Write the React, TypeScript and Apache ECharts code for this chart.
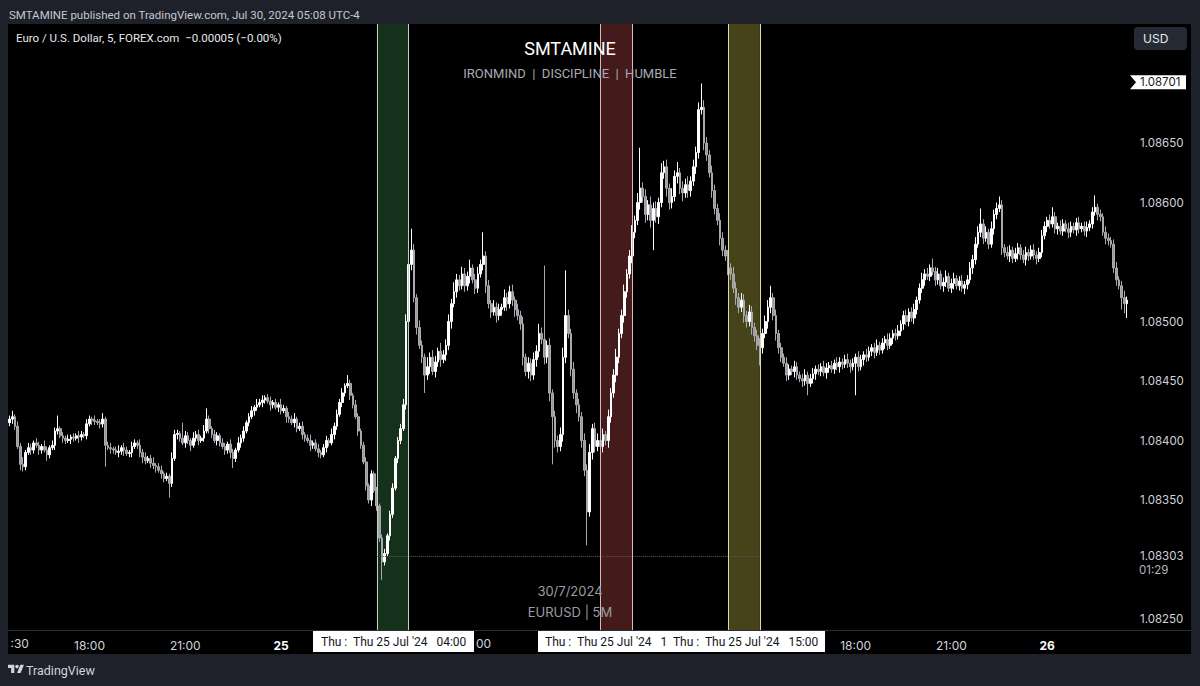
import React, { useEffect, useRef } from "react";
import * as echarts from "echarts";

// Prices are stored in points (0.00001) above BASE. One candle = 5 minutes, first candle 15:30 Wed 24 Jul.
const BASE = 1.08;
const FIRST_OPEN = 415;
const closes = [
  418, 420, 412, 395, 380, 378, 390, 394, 392, 398,
  396, 392, 395, 392, 388, 394, 396, 408, 410, 404,
  402, 400, 401, 403, 402, 404, 403, 405, 404, 414,
  418, 417, 416, 415, 414, 418, 396, 394, 393, 392,
  390, 391, 394, 392, 389, 390, 395, 398, 396, 390,
  386, 383, 385, 381, 379, 378, 375, 372, 368, 370,
  364, 385, 405, 406, 402, 398, 404, 400, 396, 402,
  405, 400, 402, 408, 418, 410, 405, 400, 404, 398,
  395, 392, 397, 390, 385, 392, 398, 402, 408, 415,
  420, 425, 428, 430, 432, 434, 436, 433, 430, 432,
  428, 430, 425, 427, 420, 418, 415, 418, 410, 412,
  405, 402, 400, 396, 398, 393, 390, 388, 394, 400,
  398, 405, 412, 422, 432, 440, 446, 448, 438, 430,
  420, 408, 396, 382, 362, 350, 372, 358, 345, 318,
  298, 305, 320, 338, 360, 385, 400, 410, 430, 500,
  548, 560, 520, 495, 480, 470, 455, 462, 470, 458,
  466, 475, 468, 472, 480, 500, 515, 525, 535, 530,
  540, 530, 538, 545, 535, 528, 540, 548, 555, 530,
  515, 508, 512, 505, 510, 512, 520, 515, 525, 518,
  510, 505, 498, 470, 458, 465, 455, 468, 475, 490,
  485, 470, 480, 440, 420, 400, 395, 405, 470, 505,
  490, 460, 440, 430, 420, 400, 375, 340, 390, 410,
  395, 400, 395, 405, 400, 420, 440, 455, 470, 490,
  505, 525, 540, 555, 575, 585, 600, 612, 605, 590,
  598, 585, 595, 588, 600, 625, 630, 612, 600, 605,
  622, 625, 612, 608, 615, 610, 618, 630, 642, 678,
  680, 650, 640, 625, 610, 595, 585, 570, 560, 555,
  545, 540, 528, 520, 512, 518, 505, 500, 508, 495,
  488, 480, 478, 490, 500, 512, 520, 505, 490, 478,
  470, 465, 455, 460, 458, 462, 455, 452, 450, 455,
  448, 452, 456, 460, 458, 462, 457, 461, 463, 460,
  465, 462, 466, 464, 468, 465, 462, 465, 470, 462,
  468, 472, 470, 475, 478, 474, 480, 476, 482, 485,
  480, 486, 490, 488, 492, 498, 505, 500, 508, 503,
  510, 518, 528, 535, 540, 538, 545, 542, 535, 540,
  530, 533, 538, 528, 532, 536, 530, 534, 528, 531,
  535, 545, 552, 565, 575, 582, 570, 575, 565, 578,
  590, 595, 598, 562, 558, 555, 560, 553, 557, 562,
  556, 552, 558, 555, 560, 556, 553, 558, 572, 580,
  585, 582, 588, 578, 580, 576, 582, 578, 575, 580,
  577, 583, 578, 580, 576, 579, 582, 592, 596, 590,
  588, 575, 570, 568, 565, 545, 535, 530, 520, 515,
  518,
];
// upper wick beyond the body, points
const hiExt = [
  3, 5, 2, 4, 3, 6, 2, 4, 3, 2,
  4, 3, 2, 5, 3, 2, 4, 3, 11, 2,
  3, 2, 4, 2, 3, 2, 4, 3, 2, 4,
  3, 2, 4, 2, 3, 5, 2, 3, 4, 2,
  3, 5, 2, 4, 3, 2, 4, 3, 2, 5,
  3, 4, 2, 3, 5, 2, 3, 4, 2, 3,
  2, 5, 4, 3, 2, 13, 4, 3, 2, 5,
  3, 4, 2, 5, 9, 3, 2, 4, 3, 2,
  4, 3, 2, 4, 3, 2, 5, 3, 4, 2,
  3, 4, 2, 5, 3, 4, 2, 3, 4, 2,
  3, 2, 5, 3, 2, 4, 3, 5, 2, 3,
  4, 2, 3, 5, 2, 3, 4, 2, 3, 4,
  2, 5, 3, 4, 3, 4, 2, 7, 3, 2,
  4, 3, 2, 3, 4, 2, 3, 2, 3, 2,
  3, 4, 2, 3, 4, 2, 3, 4, 5, 6,
  8, 18, 5, 3, 6, 4, 3, 8, 4, 6,
  5, 3, 7, 4, 5, 6, 4, 8, 5, 4,
  6, 5, 4, 7, 3, 5, 6, 4, 20, 4,
  5, 3, 6, 4, 5, 3, 7, 4, 5, 6,
  3, 5, 4, 6, 3, 5, 4, 6, 5, 8,
  5, 62, 4, 6, 3, 5, 4, 6, 8, 38,
  5, 4, 6, 3, 5, 4, 6, 5, 7, 4,
  5, 6, 4, 5, 3, 6, 4, 5, 7, 4,
  5, 6, 4, 5, 6, 4, 8, 34, 5, 6,
  4, 7, 5, 6, 4, 8, 5, 6, 4, 7,
  5, 9, 4, 6, 5, 7, 4, 6, 5, 6,
  20, 6, 5, 4, 6, 5, 4, 6, 5, 4,
  5, 4, 6, 5, 4, 6, 5, 4, 6, 5,
  4, 5, 6, 4, 5, 6, 10, 4, 5, 3,
  4, 3, 5, 4, 3, 5, 4, 3, 4, 5,
  3, 4, 5, 3, 4, 3, 5, 4, 3, 4,
  3, 5, 4, 3, 4, 5, 3, 4, 3, 5,
  4, 3, 5, 4, 3, 4, 5, 3, 4, 3,
  5, 4, 3, 4, 5, 3, 4, 5, 3, 4,
  5, 3, 4, 6, 4, 5, 3, 8, 4, 5,
  3, 4, 5, 3, 4, 5, 3, 4, 5, 3,
  4, 5, 4, 6, 5, 13, 4, 5, 3, 6,
  4, 5, 7, 4, 3, 5, 4, 3, 5, 4,
  3, 4, 5, 3, 4, 5, 3, 4, 5, 4,
  3, 5, 8, 4, 3, 5, 4, 3, 5, 4,
  3, 4, 5, 3, 4, 5, 3, 4, 10, 3,
  4, 3, 5, 4, 3, 4, 5, 3, 4, 6,
  3,
];
// lower wick beyond the body, points
const loExt = [
  3, 4, 3, 2, 5, 4, 3, 2, 4, 3,
  2, 4, 3, 2, 5, 3, 2, 4, 3, 2,
  4, 3, 2, 4, 3, 2, 5, 3, 2, 3,
  2, 4, 3, 2, 4, 3, 18, 2, 4, 3,
  2, 4, 3, 5, 2, 3, 4, 2, 3, 4,
  5, 3, 2, 4, 3, 5, 2, 4, 3, 2,
  12, 3, 2, 4, 3, 2, 4, 3, 5, 2,
  3, 4, 2, 3, 2, 4, 3, 2, 4, 3,
  2, 4, 3, 5, 8, 3, 2, 4, 3, 2,
  3, 2, 4, 3, 2, 4, 3, 2, 5, 3,
  2, 4, 3, 2, 5, 3, 2, 4, 3, 2,
  4, 3, 2, 5, 3, 2, 4, 3, 2, 4,
  3, 2, 4, 3, 2, 4, 3, 2, 4, 3,
  2, 4, 3, 2, 4, 3, 5, 2, 4, 3,
  15, 3, 2, 4, 3, 2, 4, 3, 2, 4,
  3, 5, 4, 6, 3, 5, 15, 4, 6, 3,
  5, 4, 6, 3, 5, 4, 6, 3, 5, 4,
  3, 5, 4, 6, 3, 5, 4, 3, 5, 6,
  4, 5, 3, 6, 4, 5, 3, 6, 4, 5,
  6, 4, 5, 7, 4, 6, 5, 4, 6, 5,
  4, 6, 5, 7, 40, 6, 5, 4, 6, 5,
  4, 6, 5, 7, 4, 6, 5, 28, 4, 6,
  5, 4, 6, 5, 4, 6, 5, 4, 6, 5,
  4, 6, 5, 4, 6, 5, 4, 6, 5, 7,
  5, 6, 25, 5, 6, 4, 5, 7, 6, 5,
  4, 6, 5, 7, 4, 6, 5, 4, 6, 5,
  4, 6, 5, 4, 6, 5, 4, 6, 5, 4,
  6, 5, 4, 6, 5, 4, 6, 5, 4, 6,
  5, 4, 15, 5, 4, 6, 5, 4, 6, 5,
  4, 3, 5, 4, 3, 5, 4, 3, 5, 4,
  10, 3, 4, 5, 3, 4, 3, 5, 4, 3,
  4, 3, 5, 4, 3, 4, 5, 3, 27, 4,
  3, 5, 4, 3, 4, 5, 3, 4, 3, 5,
  4, 3, 5, 4, 3, 4, 5, 3, 4, 3,
  5, 4, 3, 4, 5, 3, 4, 3, 5, 4,
  3, 5, 4, 3, 4, 5, 3, 4, 3, 5,
  4, 3, 5, 4, 3, 4, 5, 3, 4, 3,
  5, 4, 3, 6, 4, 3, 5, 4, 3, 5,
  4, 3, 5, 4, 3, 4, 5, 3, 4, 3,
  5, 4, 3, 4, 5, 3, 4, 3, 5, 4,
  3, 5, 4, 3, 4, 5, 3, 4, 3, 5,
  4, 3, 5, 4, 3, 4, 5, 3, 10, 8,
  12,
];

// time axis: candle index -> label (03:00, 06:00, 09:00, 12:00, 15:00 sit under the range labels)
const timeTicks = [30, 66, 102, 318, 354, 390];
const timeLabels = ["18:00", "21:00", "25", "18:00", "21:00", "26"];
const dayLabels = ["25", "26"];
const FIRST_LABEL_TAIL = ":30"; // the clipped "15:30" at the left edge
const HIDDEN_LABEL_TAIL = "00"; // the visible end of "06:00" next to the first range label
const priceTicks = [1.0825, 1.08303, 1.0835, 1.084, 1.0845, 1.085, 1.086, 1.0865];

// highlighted sessions (candle indices): 03:00-04:00, 10:00-11:00, 14:00-15:00 on Thu 25 Jul
const sessionStart = [138, 222, 270];
const sessionEnd = [150, 234, 282];
const HIGH_PRICE = 1.08701;
const LOW_PRICE = 1.08303;

// styles
const FRAME = "#1e2129";
const FONT = "Inter, Roboto, 'Noto Sans', sans-serif";
const FONT_N = "Roboto, 'Noto Sans', sans-serif";
const sessionFill = ["#15301b", "#451a1a", "#46421a"];
const sessionEdge = ["#c3d0c3", "#d8b8b8", "#dcd9b0"];

const toPrice = (v: number) => +(BASE + v / 1e5).toFixed(5);

export default function App() {
  const ref = useRef<HTMLDivElement>(null);
  useEffect(() => {
    if (!ref.current) return;
    const chart = echarts.init(ref.current, null, { renderer: "svg" });

    const candles = closes.map((c, i) => {
      const o = i === 0 ? FIRST_OPEN : closes[i - 1];
      const h = Math.max(o, c) + (hiExt[i] ?? 3);
      const l = Math.min(o, c) - (loExt[i] ?? 3);
      return [i, toPrice(o), toPrice(c), toPrice(l), toPrice(h)];
    });

    const option: any = {
      animation: false,
      backgroundColor: FRAME,
      grid: { left: 8, right: 69, top: 24, bottom: 56, outerBoundsMode: "none", containLabel: false },
      xAxis: {
        type: "value",
        min: -0.64,
        max: 421.5,
        splitLine: { show: false },
        axisLine: { show: false },
        axisTick: { show: false },
        axisLabel: {
          customValues: timeTicks,
          color: "#d1d4dc",
          fontSize: 12,
          fontFamily: FONT,
          margin: 9,
          formatter: (v: number) => {
            const k = timeTicks.indexOf(Math.round(v));
            const s = k >= 0 ? timeLabels[k] : "";
            return dayLabels.includes(s) ? `{b|${s}}` : s;
          },
          rich: { b: { fontWeight: "bold", color: "#ffffff", fontSize: 12, fontFamily: FONT } },
        },
      },
      yAxis: {
        type: "value",
        position: "right",
        min: 1.082408,
        max: 1.0875,
        splitLine: { show: false },
        axisLine: { show: false },
        axisTick: { show: false },
        axisLabel: {
          customValues: priceTicks,
          color: "#d1d4dc",
          fontSize: 11.5,
          fontFamily: FONT,
          margin: 9,
          align: "left",
          formatter: (v: number) => v.toFixed(5),
        },
      },
      series: [
        {
          type: "candlestick",
          data: candles,
          encode: { x: 0, y: [1, 2, 3, 4] },
          barWidth: 2.2,
          itemStyle: {
            color: "#ffffff",
            color0: "#9a9ca3",
            borderColor: "#ffffff",
            borderColor0: "#a8aab0",
            borderWidth: 1,
          },
          markArea: {
            silent: true,
            data: sessionStart.map((s, k) => [
              { xAxis: s, itemStyle: { color: sessionFill[k] } },
              { xAxis: sessionEnd[k] },
            ]),
          },
          markLine: {
            silent: true,
            symbol: "none",
            label: { show: false },
            data: [
              ...sessionStart.flatMap((s, k) => [
                { xAxis: s, lineStyle: { color: sessionEdge[k], width: 1, type: "solid" } },
                { xAxis: sessionEnd[k], lineStyle: { color: sessionEdge[k], width: 1, type: "solid" } },
              ]),
              [
                { coord: [sessionStart[0], LOW_PRICE], lineStyle: { color: "#555862", width: 1, type: "dotted" } },
                { coord: [sessionEnd[2], LOW_PRICE] },
              ],
            ],
          },
        },
      ],
    };
    chart.setOption(option);

    const yHigh = chart.convertToPixel({ yAxisIndex: 0 }, HIGH_PRICE) as number;
    const yLow = chart.convertToPixel({ yAxisIndex: 0 }, LOW_PRICE) as number;

    const txt = (text: string, x: number, y: number, size: number, fill: string, align = "left", family = FONT_N, z = 20, weight = "normal") => ({
      type: "text",
      z,
      style: { text, x, y, fill, fontSize: size, fontFamily: family, fontWeight: weight, textAlign: align, textVerticalAlign: "middle" },
    });

    const graphics: any[] = [
      { type: "rect", z: -1, shape: { x: 8, y: 24, width: 1183, height: 630 }, style: { fill: "#000000" } },
      { type: "line", z: 5, shape: { x1: 8, y1: 630.5, x2: 1191, y2: 630.5 }, style: { stroke: "#2a2e39", lineWidth: 1 } },
      txt(FIRST_LABEL_TAIL, 10.5, 643, 12, "#d1d4dc", "left", FONT),
      txt(HIDDEN_LABEL_TAIL, 476, 643, 12, "#d1d4dc", "left", FONT),
      txt("SMTAMINE published on TradingView.com, Jul 30, 2024 05:08 UTC-4", 9, 14.5, 11.5, "#c5c8d0"),
      txt("Euro / U.S. Dollar, 5, FOREX.com  \u22120.00005 (\u22120.00%)", 16, 37.5, 11.5, "#e6e8ee"),
      txt("SMTAMINE", 570, 48, 18, "#ffffff", "center"),
      txt("IRONMIND  |  DISCIPLINE  |  HUMBLE", 570, 73, 13, "#a9abb2", "center"),
      txt("30/7/2024", 570, 591, 13, "#9a9ca3", "center", FONT),
      txt("EURUSD | 5M", 570, 612, 13, "#9a9ca3", "center", FONT),
      // USD button
      { type: "rect", z: 20, shape: { x: 1134, y: 27, width: 53, height: 23, r: 4 }, style: { fill: "#262a34" } },
      txt("USD", 1143, 38.5, 12, "#e6e8ee", "left", FONT),
      // high tag
      {
        type: "polygon",
        z: 20,
        shape: { points: [[1130, yHigh - 7], [1186, yHigh - 7], [1186, yHigh + 7], [1130, yHigh + 7], [1136, yHigh]] },
        style: { fill: "#ffffff" },
      },
      txt("1.08701", 1140, yHigh, 11.5, "#131722", "left", FONT),
      txt("01:29", 1139, yLow + 14, 11.5, "#b2b5be", "left", FONT),
      // time range labels on the time axis
      { type: "rect", z: 60, shape: { x: 313, y: 631, width: 161, height: 21 }, style: { fill: "#ffffff" } },
      txt("Thu :  Thu 25 Jul '24   04:00", 321, 642, 12, "#131722", "left", FONT_N, 61),
      { type: "rect", z: 60, shape: { x: 538, y: 631, width: 287, height: 21 }, style: { fill: "#ffffff" } },
      txt("Thu :  Thu 25 Jul '24   1  Thu :  Thu 25 Jul '24   15:00", 545, 642, 12, "#131722", "left", FONT_N, 61),
      // logo
      { type: "tvlogo", z: 20, x: 8, y: 663, scaleX: 0.45, scaleY: 0.45, style: { fill: "#d1d4dc" } },
      txt("TradingView", 26, 670.5, 12.5, "#d1d4dc"),
    ];
    chart.setOption({ graphic: graphics });

    return () => chart.dispose();
  }, []);

  return <div ref={ref} style={{ position: "fixed", left: 0, top: 0, width: 1200, height: 686 }} />;
}

echarts.graphic.registerShape(
  "tvlogo",
  echarts.graphic.extendPath("M14 22H7V11H0V4h14v18zM28 22h-8l7.5-18h8L28 22zM24 8a4 4 0 1 1-8 0a4 4 0 1 1 8 0z", {})
);
